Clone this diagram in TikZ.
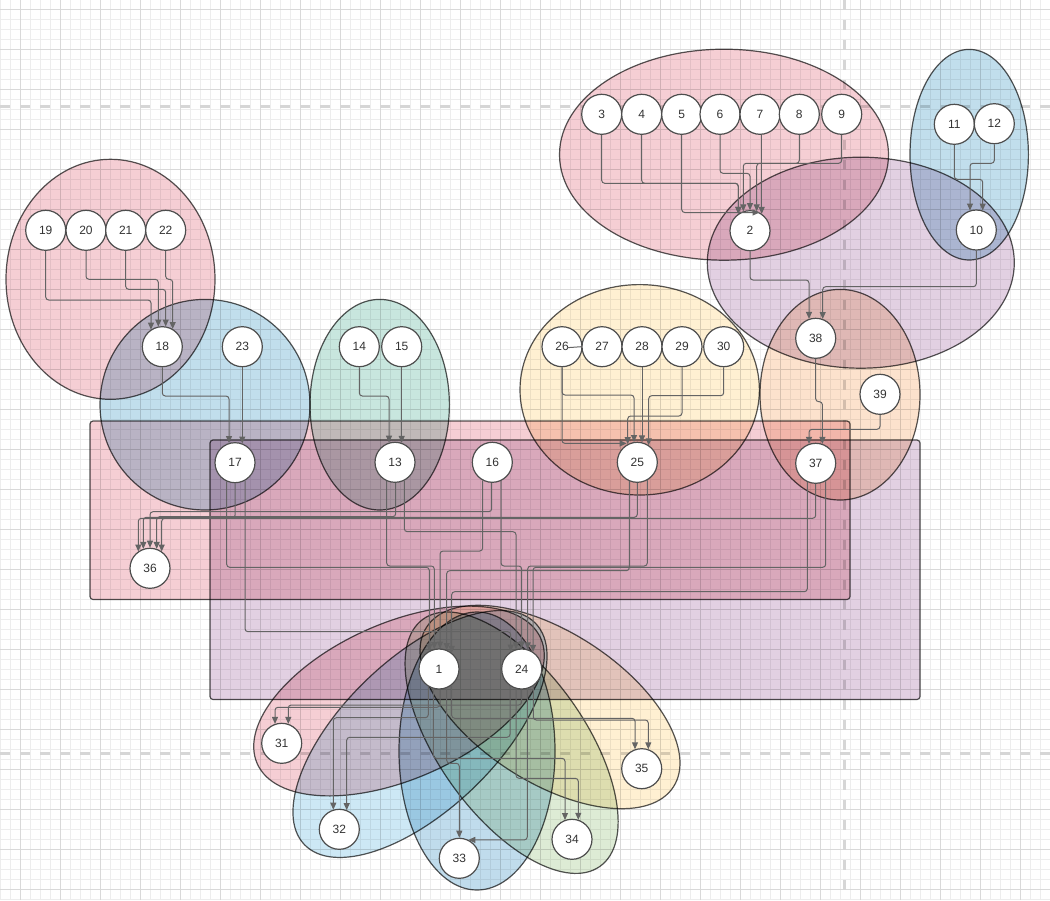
\documentclass[tikz,border=0pt]{standalone}
\usepackage{fontspec}
\setmainfont{Liberation Sans}
\usetikzlibrary{arrows.meta,calc}
\definecolor{gpink}{HTML}{F5CED4}
\definecolor{gpurple}{HTML}{E2D0E2}
\definecolor{gblue}{HTML}{C1DEEC}
\definecolor{gmint}{HTML}{C8E6DE}
\definecolor{gyellow}{HTML}{FFF0D2}
\definecolor{gorange}{HTML}{FCE2CD}
\definecolor{ggreen}{HTML}{DDEBD5}
\definecolor{glblue}{HTML}{CDE8F5}
\definecolor{gbluethree}{HTML}{C0DCEC}
\definecolor{grpline}{HTML}{555555}
\definecolor{edgecol}{HTML}{646464}
\definecolor{nodeline}{HTML}{4D4D4D}
\definecolor{txtcol}{HTML}{333333}
\definecolor{gridminor}{HTML}{EDEDED}
\definecolor{gridmajor}{HTML}{D9D9D9}
\definecolor{pagebreak}{HTML}{D6D6D6}
\tikzset{
  gnode/.style={circle, draw=nodeline, line width=1.2pt, fill=white, minimum size=40pt, inner sep=0pt, font=\fontsize{12}{14}\selectfont, text=txtcol},
  conn/.style={draw=edgecol, line width=1pt, rounded corners=3pt, -{Triangle[length=7pt,width=6pt]}},
  edgeline/.style={draw=edgecol, line width=1pt},
  grp/.style={draw=grpline, line width=1.2pt},
  minorgrid/.style={draw=gridminor, line width=0.8pt},
  majorgrid/.style={draw=gridmajor, line width=0.9pt},
  pagebrk/.style={draw=pagebreak, line width=3pt, dash pattern=on 10pt off 10pt},
}
\begin{document}
\begin{tikzpicture}[x=1pt,y=-1pt]
\useasboundingbox (0,0) rectangle (1050,900);
\fill[white] (0,0) rectangle (1050,900);
% grid
\foreach \x in {0,10,...,1050} \draw[minorgrid] (\x,0) -- (\x,900);
\foreach \y in {9.3,19.3,...,899.3} \draw[minorgrid] (0,\y) -- (1050,\y);
\foreach \x in {20,60,...,1020} \draw[majorgrid] (\x,0) -- (\x,900);
\foreach \y in {9.3,49.3,...,889.3} \draw[majorgrid] (0,\y) -- (1050,\y);
\draw[pagebrk] (0,106) -- (1050,106);
\draw[pagebrk] (0,753.3) -- (1050,753.3);
\draw[pagebrk] (844,0) -- (844,900);
% groups (multiplied over the page)
\begin{scope}[blend mode=multiply]
\draw[grp, fill=gpink, rounded corners=3pt] (90,421) rectangle (850,599.5);
\draw[grp, fill=gpurple, rounded corners=3pt] (210,440) rectangle (920,699.5);
\draw[grp, fill=gblue] (205,404.7) ellipse [x radius=105pt, y radius=105.3pt];
\draw[grp, fill=gpink] (110.5,279.3) ellipse [x radius=104.5pt, y radius=120pt];
\draw[grp, fill=gmint] (379.7,404.7) ellipse [x radius=69.7pt, y radius=105.3pt];
\draw[grp, fill=gyellow] (639.7,389.8) ellipse [x radius=119.7pt, y radius=105.2pt];
\draw[grp, fill=gpurple] (860.8,262.7) ellipse [x radius=153.5pt, y radius=105.5pt];
\draw[grp, fill=gpink] (724,154.7) ellipse [x radius=164.5pt, y radius=105.5pt];
\draw[grp, fill=gblue] (969.2,154.7) ellipse [x radius=59.2pt, y radius=105.3pt];
\draw[grp, fill=gorange] (840,394.7) ellipse [x radius=80pt, y radius=105.3pt];
% petals
\draw[grp, fill=gpink, shift={(399,701)}, rotate=23.8] (0,0) ellipse [x radius=155pt, y radius=78pt];
\draw[grp, fill=glblue, shift={(420,734)}, rotate=43.7] (0,0) ellipse [x radius=160pt, y radius=76pt];
\draw[grp, fill=gbluethree] (477,751) ellipse [x radius=78pt, y radius=139pt];
\draw[grp, fill=ggreen, shift={(511.6,742.7)}, rotate=-54.4] (0,0) ellipse [x radius=152pt, y radius=73pt];
\draw[grp, fill=gyellow, shift={(550,707)}, rotate=-32.9] (0,0) ellipse [x radius=147pt, y radius=75pt];
\end{scope}
% nodes
\node[gnode] (n1) at (439,669) {1};
\node[gnode] (n2) at (750,230.7) {2};
\node[gnode] (n3) at (601.7,114.3) {3};
\node[gnode] (n4) at (641.7,114.3) {4};
\node[gnode] (n5) at (681.7,114.3) {5};
\node[gnode] (n6) at (720,114.3) {6};
\node[gnode] (n7) at (760,114.3) {7};
\node[gnode] (n8) at (799.3,114.3) {8};
\node[gnode] (n9) at (841.7,114.3) {9};
\node[gnode] (n10) at (976.3,230) {10};
\node[gnode] (n11) at (954.3,124.3) {11};
\node[gnode] (n12) at (994.3,123.7) {12};
\node[gnode] (n13) at (395,462.3) {13};
\node[gnode] (n14) at (359.3,346.7) {14};
\node[gnode] (n15) at (401.7,346.7) {15};
\node[gnode] (n16) at (492.3,462.3) {16};
\node[gnode] (n17) at (235,462.7) {17};
\node[gnode] (n18) at (162.3,346.7) {18};
\node[gnode] (n19) at (45.7,230.3) {19};
\node[gnode] (n20) at (86,230.3) {20};
\node[gnode] (n21) at (125.7,230.3) {21};
\node[gnode] (n22) at (165.7,230.3) {22};
\node[gnode] (n23) at (242.3,346.7) {23};
\node[gnode] (n24) at (521.7,669) {24};
\node[gnode] (n25) at (637.3,462.3) {25};
\node[gnode] (n26) at (562,346.7) {26};
\node[gnode] (n27) at (602,346.7) {27};
\node[gnode] (n28) at (642,346.7) {28};
\node[gnode] (n29) at (682,346.7) {29};
\node[gnode] (n30) at (723.7,346.7) {30};
\node[gnode] (n31) at (281.7,743.3) {31};
\node[gnode] (n32) at (339.3,829.3) {32};
\node[gnode] (n33) at (459.3,858.3) {33};
\node[gnode] (n34) at (572,839.3) {34};
\node[gnode] (n35) at (641.7,768.7) {35};
\node[gnode] (n36) at (150,568.3) {36};
\node[gnode] (n37) at (815.7,463.3) {37};
\node[gnode] (n38) at (815.7,338.3) {38};
\node[gnode] (n39) at (880,394.3) {39};
% connectors to 2
\draw[conn] (n3.south) |- (738.3,183.3) -- ($(n2)+(-11.7,-16.8)$);
\draw[conn] (n4.south) |- (738.3,183.3) -- ($(n2)+(-11.7,-16.8)$);
\draw[conn] (n9.south) |- (743.3,163.3) -- ($(n2)+(-6.7,-19.4)$);
\draw[conn] (n6.south) |- (750,173.3) -- (n2.north);
\draw[conn] (n8.south) |- (756.7,163.3) -- ($(n2)+(6.7,-19.4)$);
\draw[conn] ($(n7)+(1.7,20.4)$) -- ($(n2)+(11.7,-16.8)$);
\draw[conn] (n5.south) |- ($(n2)+(9.5,-18.2)$);
% to 10
\draw[conn] (n11.south) |- (982.7,179.3) -- ($(n10)+(6.4,-19.5)$);
\draw[conn] (n12.south) |- (970,163.3) -- ($(n10)+(-6.3,-19.5)$);
% to 38
\draw[conn] (n2.south) |- (809,280) -- ($(n38)+(-6.7,-19.4)$);
\draw[conn] (n10.south) |- (822.7,286.7) -- ($(n38)+(7,-19.3)$);
% to 37
\draw[conn] (n38.south) |- (822.4,401.7) -- ($(n37)+(6.7,-19.4)$);
\draw[conn] (n39.south) |- (809,429.3) -- ($(n37)+(-6.7,-19.4)$);
% to 18
\draw[conn] (n19.south) |- (151,300) -- ($(n18)+(-11.3,-17.1)$);
\draw[conn] (n20.south) |- (158.3,279.3) -- ($(n18)+(-4,-20.1)$);
\draw[conn] (n21.south) |- (165.7,289.3) -- ($(n18)+(3.4,-20.2)$);
\draw[conn] (n22.south) |- (172.7,279.3) -- ($(n18)+(10.4,-17.7)$);
% to 17 and 13
\draw[conn] (n18.south) |- (229,396) -- ($(n17)+(-6,-19.6)$);
\draw[conn] (n23.south) -- ($(n17)+(7.3,-19.2)$);
\draw[conn] (n14.south) |- (389,396) -- ($(n13)+(-6,-19.6)$);
\draw[conn] (n15.south) -- ($(n13)+(6.7,-19.4)$);
% to 25
\draw[conn] (n26.south) |- (634,395) -- ($(n25)+(-3.3,-20.2)$);
\draw[conn] (n26.south) |- ($(n25)+(-10.6,-18.9)$);
\draw[edgeline] (n27.west) -- ($(n26)+(5,1)$);
\draw[conn] (n28.south) -- ($(n25)+(4.7,-19.9)$);
\draw[conn] (n29.south) |- (627.7,416) -- ($(n25)+(-9.6,-18.1)$);
\draw[conn] (n30.south) |- (648.7,395.7) -- ($(n25)+(11.4,-17)$);
% to 36
\draw[conn] (n17.south) |- (161.7,518.3) -- ($(n36)+(11.7,-16.8)$);
\draw[conn] ($(n13)+(0.7,20.5)$) |- (156.7,516.7) -- ($(n36)+(6.7,-19.4)$);
\draw[conn] ($(n16)+(-0.6,20.5)$) |- (150,511.7) -- (n36.north);
\draw[conn] (n25.south) |- (143.3,517.3) -- ($(n36)+(-6.7,-19.4)$);
\draw[conn] (n37.south) |- (138.3,518.3) -- ($(n36)+(-11.7,-16.8)$);
% to 1
\draw[conn] ($(n17)+(-8.3,18.7)$) |- (429.3,567.3) -- ($(n1)+(-9.7,-18.1)$);
\draw[conn] ($(n13)+(-8.3,18.7)$) |- (434.3,566) -- ($(n1)+(-4.7,-19.9)$);
\draw[conn] ($(n16)+(-9.6,18.1)$) |- (440,551) -- ($(n1)+(1,-20.5)$);
\draw[conn] ($(n25)+(-8,18.9)$) |- (446.7,570.7) -- ($(n1)+(7.7,-19)$);
\draw[conn] ($(n37)+(-8.4,18.7)$) |- (451.7,591.7) -- ($(n1)+(12.7,-16.1)$);
% to 24
\draw[conn] ($(n17)+(10,17.9)$) |- (510.7,631.7) -- ($(n24)+(-11,-17.3)$);
\draw[conn] ($(n13)+(9.3,18.3)$) |- (516,531.7) -- ($(n24)+(-5.7,-19.7)$);
\draw[conn] ($(n16)+(8.7,18.5)$) |- (521.7,566) -- (n24.north);
\draw[conn] ($(n25)+(10,17.9)$) |- (527.7,566) -- ($(n24)+(6,-19.6)$);
\draw[conn] ($(n37)+(10,17.9)$) |- (533,567.3) -- ($(n24)+(11.3,-17.1)$);
% from 1
\draw[conn] ($(n1)+(-10.7,17.5)$) |- (333.3,717.7) -- ($(n32)+(-6,-19.6)$);
\draw[conn] ($(n1)+(-5.7,19.7)$) |- (565,758.3) -- ($(n34)+(-7,-19.3)$);
\draw[conn] ($(n1)+(1,20.5)$) |- (275,707.3) -- ($(n31)+(-6.7,-19.4)$);
\draw[conn] ($(n1)+(7.7,19)$) |- (459.3,763.3) -- (n33.north);
\draw[conn] ($(n1)+(12.7,16.1)$) |- (635,718.3) -- ($(n35)+(-6.7,-19.4)$);
% from 24
\draw[conn] ($(n24)+(-11.7,16.8)$) |- (346.7,737.3) -- ($(n32)+(7.4,-19.1)$);
\draw[conn] ($(n24)+(-5.7,19.7)$) |- (578.3,778.3) -- ($(n34)+(6.3,-19.5)$);
\draw[conn] (n24.south) |- (288.3,705) -- ($(n31)+(6.6,-19.4)$);
\draw[conn] ($(n24)+(5.6,19.7)$) |- ($(n33)+(9,-18.4)$);
\draw[conn] ($(n24)+(11.6,16.9)$) |- (648.3,720) -- ($(n35)+(6.6,-19.4)$);
\end{tikzpicture}
\end{document}
